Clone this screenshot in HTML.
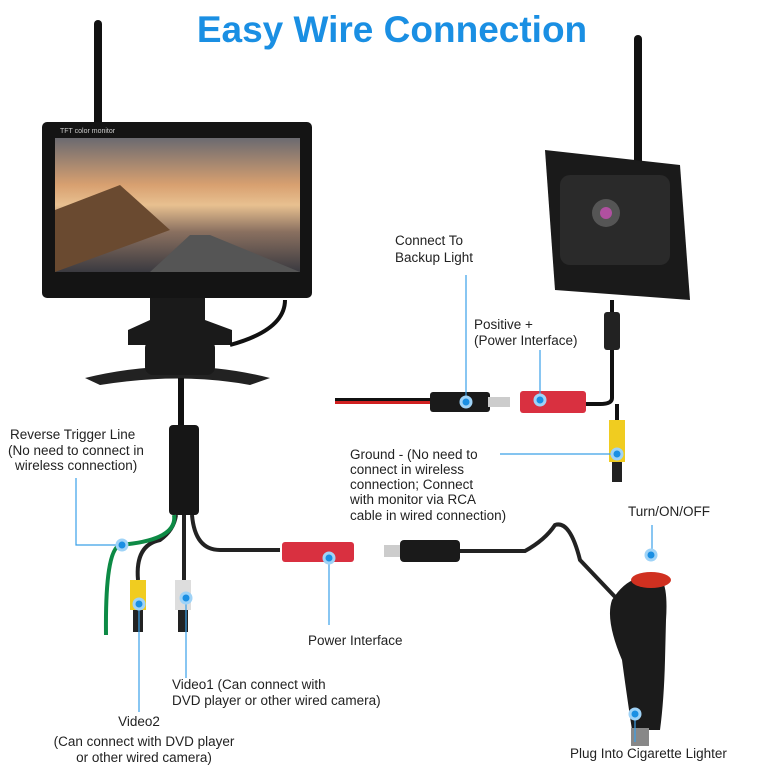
<!DOCTYPE html>
<html><head><style>
body{margin:0;background:#fff}
svg{display:block}
text{font-family:"Liberation Sans",sans-serif;fill:#222}
</style></head><body>
<svg width="768" height="768" viewBox="0 0 768 768">
<defs>
<linearGradient id="sky" x1="0" y1="0" x2="0" y2="1">
<stop offset="0" stop-color="#6b6a70"/><stop offset="0.35" stop-color="#d8a070"/><stop offset="0.5" stop-color="#e8c090"/><stop offset="0.7" stop-color="#8a7060"/><stop offset="1" stop-color="#3a3a40"/></linearGradient>
</defs>
<text x="392" y="42" text-anchor="middle" font-size="37" font-weight="bold" style="fill:#1a8fe3">Easy Wire Connection</text>

<!-- monitor -->
<rect x="94" y="20" width="8" height="110" rx="4" fill="#111"/>
<rect x="42" y="122" width="270" height="176" rx="5" fill="#141414"/>
<rect x="55" y="138" width="245" height="134" fill="url(#sky)"/>
<polygon points="55,210 120,185 170,230 55,272" fill="#6a4a30"/>
<polygon points="150,272 190,235 210,235 300,272" fill="#555"/>
<text x="60" y="133" font-size="7" style="fill:#ccc">TFT color monitor</text>
<path d="M150 298 L150 320 L128 330 L128 345 L232 345 L232 330 L205 320 L205 298Z" fill="#1a1a1a"/>
<path d="M85 378 Q180 355 270 378 L250 385 Q180 372 100 385Z" fill="#222"/>
<rect x="145" y="340" width="70" height="35" rx="8" fill="#1a1a1a"/>
<path d="M230 345 Q285 330 285 300" stroke="#111" stroke-width="4" fill="none"/>

<!-- main cable -->
<path d="M181 378 L181 428" stroke="#111" stroke-width="6" fill="none"/>
<rect x="169" y="425" width="30" height="90" rx="4" fill="#161616"/>
<path d="M176 515 Q174 530 160 540 Q135 545 138 580" stroke="#222" stroke-width="4" fill="none"/>
<path d="M184 515 L184 580" stroke="#222" stroke-width="4" fill="none"/>
<path d="M192 515 Q195 550 220 550 L280 550" stroke="#222" stroke-width="4" fill="none"/>
<path d="M174 515 Q178 540 120 545 Q105 550 106 635" stroke="#0d8a45" stroke-width="4" fill="none"/>
<!-- RCA -->
<rect x="130" y="580" width="16" height="30" fill="#f0cc20"/><rect x="133" y="610" width="10" height="22" fill="#222"/>
<rect x="175" y="580" width="16" height="30" fill="#ddd"/><rect x="178" y="610" width="10" height="22" fill="#222"/>
<!-- power connector -->
<rect x="282" y="542" width="72" height="20" rx="3" fill="#d93040"/>
<rect x="384" y="545" width="20" height="12" fill="#ccc"/>
<rect x="400" y="540" width="60" height="22" rx="4" fill="#1a1a1a"/>
<path d="M460 551 L525 551 Q545 540 555 525 Q570 520 580 560 L618 600" stroke="#222" stroke-width="4" fill="none"/>
<!-- cig lighter -->
<path d="M612 600 Q625 580 640 578 L662 580 Q668 590 666 620 L665 660 Q664 700 660 730 L632 730 Q626 690 622 660 Q605 620 612 600Z" fill="#1b1b1b"/>
<ellipse cx="651" cy="580" rx="20" ry="8" fill="#d03020"/>
<rect x="631" y="728" width="18" height="18" fill="#888"/>

<!-- camera -->
<rect x="634" y="35" width="8" height="130" rx="4" fill="#111"/>
<path d="M545 150 L680 165 L690 300 L555 290Z" fill="#1a1a1a"/>
<rect x="560" y="175" width="110" height="90" rx="10" fill="#2a2a2a"/>
<circle cx="606" cy="213" r="14" fill="#555"/><circle cx="606" cy="213" r="6" fill="#b050a0"/>
<path d="M612 300 L612 398 Q612 404 600 404 L575 404" stroke="#111" stroke-width="4" fill="none"/>
<rect x="604" y="312" width="16" height="38" rx="3" fill="#222"/>
<path d="M617 404 L617 420" stroke="#111" stroke-width="4"/>
<rect x="609" y="420" width="16" height="42" fill="#f0cc20"/><rect x="612" y="462" width="10" height="20" fill="#222"/>
<!-- red/black wire -->
<rect x="335" y="398" width="100" height="3" fill="#111"/><rect x="335" y="401" width="100" height="3" fill="#d02020"/>
<rect x="430" y="392" width="60" height="20" rx="3" fill="#1a1a1a"/>
<rect x="488" y="397" width="22" height="10" fill="#ccc"/>
<rect x="520" y="391" width="66" height="22" rx="3" fill="#d93040"/>

<!-- leaders -->
<g stroke="#3aa0e8" stroke-width="1.2" fill="none">
<path d="M466 275 L466 402"/>
<path d="M540 350 L540 400"/>
<path d="M500 454 L617 454"/>
<path d="M76 478 L76 545 L122 545"/>
<path d="M329 558 L329 625"/>
<path d="M186 598 L186 678"/>
<path d="M139 604 L139 712"/>
<path d="M652 525 L652 555"/>
<path d="M635 714 L635 742"/>
</g>
<g fill="#1a8fe3" stroke="#9fd3f7" stroke-width="3">
<circle cx="466" cy="402" r="5"/><circle cx="540" cy="400" r="5"/><circle cx="617" cy="454" r="5"/>
<circle cx="122" cy="545" r="5"/><circle cx="329" cy="558" r="5"/><circle cx="186" cy="598" r="5"/>
<circle cx="139" cy="604" r="5"/><circle cx="651" cy="555" r="5"/><circle cx="635" cy="714" r="5"/>
</g>

<g font-size="13.5">
<text x="395" y="245">Connect To</text><text x="395" y="262">Backup Light</text>
<text x="474" y="329">Positive +</text><text x="474" y="345">(Power Interface)</text>
<text x="350" y="459">Ground - (No need to</text><text x="350" y="474">connect in wireless</text><text x="350" y="489">connection; Connect</text><text x="350" y="504">with monitor via RCA</text><text x="350" y="520">cable in wired connection)</text>
<text x="10" y="439">Reverse Trigger Line</text><text x="8" y="455">(No need to connect in</text><text x="15" y="470">wireless connection)</text>
<text x="628" y="516">Turn/ON/OFF</text>
<text x="308" y="645">Power Interface</text>
<text x="172" y="689">Video1 (Can connect with</text><text x="172" y="705">DVD player or other wired camera)</text>
<text x="139" y="726" text-anchor="middle">Video2</text><text x="144" y="746" text-anchor="middle">(Can connect with DVD player</text><text x="144" y="762" text-anchor="middle">or other wired camera)</text>
<text x="570" y="758">Plug Into Cigarette Lighter</text>
</g>
</svg>
</body></html>
